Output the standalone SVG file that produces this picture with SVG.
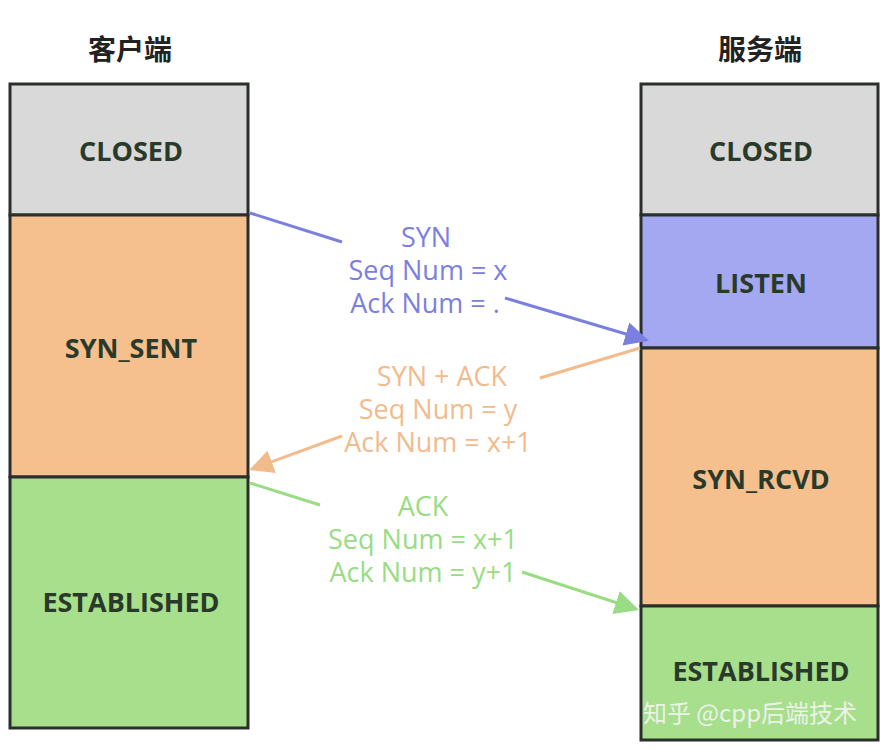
<svg xmlns="http://www.w3.org/2000/svg" width="888" height="755" viewBox="0 0 888 755">
<defs>
<style>
.box{stroke:#2a2f2a;stroke-width:3}
.st{font-family:"Open Sans","Liberation Sans",sans-serif;font-weight:bold;font-size:27px;fill:#2a3a2a;text-anchor:middle}
.ti{font-family:"Noto Sans CJK SC",sans-serif;font-weight:bold;font-size:28px;fill:#222;text-anchor:middle}
.lb{font-family:"Open Sans","Liberation Sans",sans-serif;font-size:27px;text-anchor:middle}
</style>
<marker id="mb" markerWidth="8" markerHeight="8" refX="7" refY="4" orient="auto" markerUnits="strokeWidth"><path d="M0,0L8,4L0,8z" fill="#7b80e0"/></marker>
<marker id="mo" markerWidth="8" markerHeight="8" refX="7" refY="4" orient="auto" markerUnits="strokeWidth"><path d="M0,0L8,4L0,8z" fill="#f2bb8c"/></marker>
<marker id="mg" markerWidth="8" markerHeight="8" refX="7" refY="4" orient="auto" markerUnits="strokeWidth"><path d="M0,0L8,4L0,8z" fill="#98dc84"/></marker>
</defs>
<rect width="888" height="755" fill="#fff"/>
<text class="ti" x="130" y="60">客户端</text>
<text class="ti" x="760" y="60">服务端</text>
<g id="c-closed"><rect class="box" x="10" y="84" width="238" height="131" fill="#d9d9d9"/><text class="st" x="131" y="161">CLOSED</text></g>
<g id="c-synsent"><rect class="box" x="10" y="215" width="238" height="262" fill="#f6bf8e"/><text class="st" x="131" y="358">SYN_SENT</text></g>
<g id="c-est"><rect class="box" x="10" y="477" width="238" height="251" fill="#a7df8c"/><text class="st" x="131" y="612">ESTABLISHED</text></g>
<g id="s-closed"><rect class="box" x="641" y="84" width="237" height="131" fill="#d9d9d9"/><text class="st" x="761" y="161">CLOSED</text></g>
<g id="s-listen"><rect class="box" x="641" y="215" width="237" height="133" fill="#a3a8f0"/><text class="st" x="761" y="293">LISTEN</text></g>
<g id="s-synrcvd"><rect class="box" x="641" y="348" width="237" height="258" fill="#f6bf8e"/><text class="st" x="761" y="489">SYN_RCVD</text></g>
<g id="s-est"><rect class="box" x="641" y="606" width="237" height="134" fill="#a7df8c"/><text class="st" x="761" y="681">ESTABLISHED</text></g>
<g id="connectors" fill="none" stroke-width="3">
<path d="M250,213L342,242" stroke="#7b80e0"/>
<path d="M505,298L646,340" stroke="#7b80e0" marker-end="url(#mb)"/>
<path d="M640,348L540,378" stroke="#f2bb8c"/>
<path d="M342,436L252,469" stroke="#f2bb8c" marker-end="url(#mo)"/>
<path d="M250,483L320,505" stroke="#98dc84"/>
<path d="M522,572L636,609" stroke="#98dc84" marker-end="url(#mg)"/>
</g>
<g class="lb">
<text x="426" y="247" fill="#7b80e0">SYN</text>
<text x="428" y="280" fill="#7b80e0">Seq Num = x</text>
<text x="425" y="313" fill="#7b80e0">Ack Num = .</text>
<text x="442" y="386" fill="#f2bb8c">SYN + ACK</text>
<text x="438" y="419" fill="#f2bb8c">Seq Num = y</text>
<text x="438" y="452" fill="#f2bb8c">Ack Num = x+1</text>
<text x="423" y="516" fill="#98dc84">ACK</text>
<text x="423" y="549" fill="#98dc84">Seq Num = x+1</text>
<text x="423" y="582" fill="#98dc84">Ack Num = y+1</text>
</g>
<text x="750" y="722" font-family="Noto Sans CJK SC,sans-serif" font-size="24" fill="#f4f4f4" text-anchor="middle" opacity="0.9">知乎 @cpp后端技术</text>
</svg>
